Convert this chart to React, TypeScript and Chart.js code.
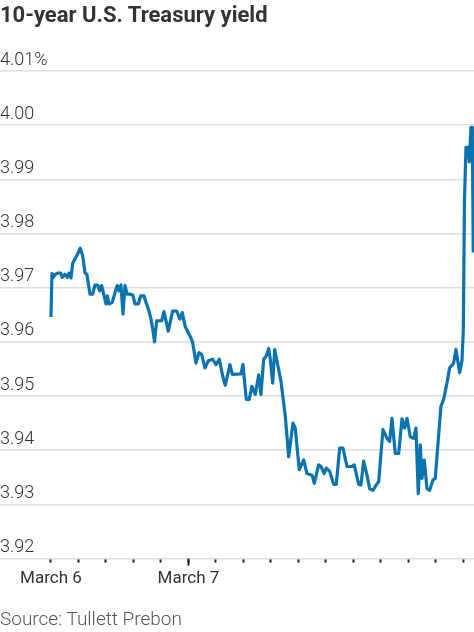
import React, { useEffect, useRef } from 'react';
import { Chart, registerables } from 'chart.js';

Chart.register(...registerables);

// hours since the start of March 6
const hours = [
  0, 0.17, 0.4, 0.7, 1.17, 1.69, 1.97, 2.44, 2.85, 3.14, 3.49, 3.79, 4.49, 5.11, 5.53, 5.93, 6.28, 6.81,
  7.28, 7.68, 8.15, 8.5, 8.85, 9.25, 9.6, 9.83, 10.12, 10.7, 11.17, 11.57, 11.87, 12.22, 12.57, 12.92,
  13.27, 13.84, 14.31, 14.66, 15.24, 15.66, 16.23, 16.58, 17.11, 17.46, 17.86, 18.07, 18.45, 19.32,
  19.72, 20.47, 21.24, 21.94, 22.52, 22.92, 23.44, 24.26, 24.73, 25.31, 25.83, 26.3, 26.88, 27.46,
  28.22, 28.8, 29.38, 29.97, 30.42, 31.24, 31.65, 33.16, 33.51, 34.09, 34.61, 35.08, 35.66, 36.25,
  36.65, 37.13, 37.58, 38.0, 38.28, 38.7, 39.05, 39.57, 40.15, 40.9, 41.49, 42.24, 42.64, 43.34,
  44.11, 44.68, 45.56, 45.96, 46.73, 47.13, 47.7, 48.05, 48.65, 49.34, 49.8, 50.39, 50.97, 51.67,
  52.54, 52.94, 53.71, 54.11, 54.58, 55.16, 55.63, 56.2, 56.78, 57.2, 57.95, 58.65, 59.12, 59.52,
  60.1, 60.69, 61.27, 61.74, 62.14, 62.72, 63.31, 63.71, 64.11, 64.46, 64.76, 65.16, 65.63, 66.1,
  66.68, 67.08, 67.67, 68.07, 68.54, 69.12, 69.59, 70.29, 70.69, 71.34, 71.74, 71.97, 72.18, 72.44,
  72.79, 73.02, 73.31, 73.54, 73.71,
];

const yields = [
  3.9646, 3.9726, 3.9719, 3.9724, 3.9727, 3.9727, 3.9719, 3.9725, 3.9719, 3.9727, 3.9718, 3.9745,
  3.9759, 3.9773, 3.9759, 3.9728, 3.9724, 3.9688, 3.9688, 3.9705, 3.9705, 3.9694, 3.9704, 3.9686,
  3.967, 3.9685, 3.967, 3.9673, 3.9691, 3.9704, 3.9694, 3.9705, 3.9651, 3.9704, 3.9688, 3.9688,
  3.9686, 3.967, 3.967, 3.9685, 3.9685, 3.9673, 3.9657, 3.9642, 3.9617, 3.96, 3.9639, 3.9639,
  3.9656, 3.962, 3.9657, 3.9657, 3.9642, 3.9654, 3.9628, 3.9611, 3.9599, 3.9561, 3.958, 3.9577,
  3.9552, 3.9565, 3.9568, 3.9558, 3.9568, 3.9537, 3.952, 3.9558, 3.954, 3.9541, 3.9558, 3.9494,
  3.9494, 3.9518, 3.9503, 3.9539, 3.9503, 3.9568, 3.9574, 3.9588, 3.9568, 3.9524, 3.9586, 3.9558,
  3.9527, 3.9463, 3.9388, 3.945, 3.9441, 3.9364, 3.9382, 3.9357, 3.9354, 3.9339, 3.9373, 3.937,
  3.9357, 3.9367, 3.9361, 3.9337, 3.9337, 3.9404, 3.9404, 3.937, 3.937, 3.9373, 3.9337, 3.9336,
  3.938, 3.9354, 3.9329, 3.9326, 3.9336, 3.9342, 3.9438, 3.9422, 3.9416, 3.9459, 3.9394, 3.9394,
  3.9458, 3.9441, 3.9459, 3.9425, 3.9422, 3.9441, 3.932, 3.941, 3.9348, 3.9382, 3.9329, 3.9326,
  3.9345, 3.9348, 3.9428, 3.9481, 3.9494, 3.9524, 3.9552, 3.9561, 3.9586, 3.9543, 3.9565, 3.962,
  3.9861, 3.9959, 3.9959, 3.9932, 3.9996, 3.9996, 3.9765,
];

const yTicks = [3.92, 3.93, 3.94, 3.95, 3.96, 3.97, 3.98, 3.99, 4.0, 4.01];
const dayLabels = ['March 6', 'March 7'];
const ticksPerDay = 5;
const tickCount = 16;

// longer tick mark at the start of March 7
const dayTickPlugin = {
  id: 'dayTick',
  afterDraw(chart: Chart) {
    const x = chart.scales.x;
    const px = x.getPixelForValue(24);
    const c = chart.ctx;
    c.save();
    c.strokeStyle = '#222';
    c.lineWidth = 2;
    c.beginPath();
    c.moveTo(px, chart.chartArea.bottom);
    c.lineTo(px, chart.chartArea.bottom + 7);
    c.stroke();
    c.restore();
  },
};

export default function App() {
  const canvasRef = useRef<HTMLCanvasElement | null>(null);
  const chartRef = useRef<Chart | null>(null);

  useEffect(() => {
    const canvas = canvasRef.current;
    if (!canvas) return;
    const ctx = canvas.getContext('2d');
    if (!ctx) return;

    const hoursPerTick = 24 / ticksPerDay;

    chartRef.current = new Chart(ctx, {
      type: 'line',
      data: {
        datasets: [
          {
            data: hours.map((h, i) => ({ x: h, y: yields[i] })),
            borderColor: '#0a73b0',
            borderWidth: 3.2,
            pointRadius: 0,
            tension: 0,
            borderJoinStyle: 'round',
          },
        ],
      },
      options: {
        animation: false,
        responsive: true,
        maintainAspectRatio: false,
        layout: { padding: { top: 71, bottom: 37, left: 0, right: 0 } },
        plugins: { legend: { display: false }, tooltip: { enabled: false } },
        scales: {
          x: {
            type: 'linear',
            min: -8.9,
            max: 73.84,
            afterBuildTicks: (scale) => {
              scale.ticks = Array.from({ length: tickCount }, (_, i) => ({ value: i * hoursPerTick }));
            },
            border: { display: false },
            grid: {
              display: true,
              drawOnChartArea: false,
              drawTicks: true,
              tickLength: 4,
              tickColor: '#222',
              tickWidth: 2,
            },
            ticks: {
              autoSkip: false,
              maxRotation: 0,
              padding: 6,
              color: '#333',
              font: { family: 'Roboto', size: 17 },
              callback: (_v, i) => (i % ticksPerDay === 0 ? dayLabels[i / ticksPerDay] ?? '' : ''),
            },
          },
          y: {
            min: 3.92,
            max: 4.01,
            afterBuildTicks: (scale) => {
              scale.ticks = yTicks.map((v) => ({ value: v }));
            },
            border: { display: false },
            grid: { color: '#dedede', lineWidth: 1.5, drawTicks: false },
            ticks: {
              mirror: true,
              padding: 0,
              labelOffset: -11,
              color: '#333',
              font: { family: 'Roboto', size: 18, weight: 300 },
              callback: (v) => (Number(v) >= 4.005 ? '4.01%' : Number(v).toFixed(2)),
            },
          },
        },
      },
      plugins: [dayTickPlugin],
    });

    return () => chartRef.current?.destroy();
  }, []);

  return (
    <div style={{ position: 'absolute', left: 0, top: 0, width: 474, height: 632, background: '#fff' }}>
      <canvas ref={canvasRef} />
      <div
        style={{
          position: 'absolute',
          left: 0,
          top: 2,
          fontFamily: 'Roboto',
          fontWeight: 700,
          fontSize: 22,
          color: '#333',
          whiteSpace: 'nowrap',
        }}
      >
        10-year U.S. Treasury yield
      </div>
      <div
        style={{
          position: 'absolute',
          left: 0,
          top: 607,
          fontFamily: 'Roboto',
          fontWeight: 300,
          fontSize: 19,
          color: '#555',
          whiteSpace: 'nowrap',
        }}
      >
        Source: Tullett Prebon
      </div>
    </div>
  );
}
